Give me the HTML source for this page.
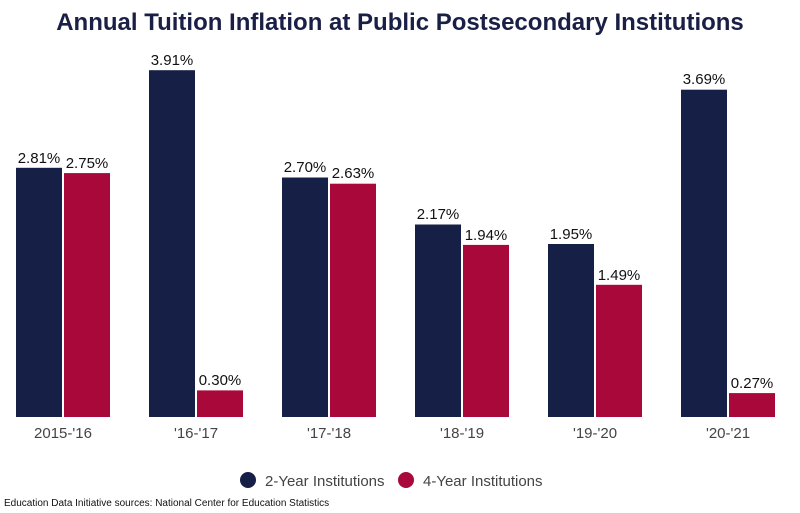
<!DOCTYPE html>
<html><head><meta charset="utf-8"><style>
body{margin:0;background:#fff;}
svg{display:block;font-family:"Liberation Sans",Arial,sans-serif;}
</style></head><body>
<svg width="800" height="513" viewBox="0 0 800 513" xmlns="http://www.w3.org/2000/svg">
<rect width="800" height="513" fill="#fff"/>
<text x="400" y="30" text-anchor="middle" font-size="24" font-weight="bold" fill="#1a1f45">Annual Tuition Inflation at Public Postsecondary Institutions</text>
<g font-size="15" fill="#111" text-anchor="middle">
<rect x="16" y="167.8" width="46" height="249.2" fill="#161f45"/>
<rect x="64" y="173.1" width="46" height="243.9" fill="#a8083a"/>
<text x="39" y="163">2.81%</text><text x="87" y="168">2.75%</text>
<rect x="149" y="70.2" width="46" height="346.8" fill="#161f45"/>
<rect x="197" y="390.4" width="46" height="26.6" fill="#a8083a"/>
<text x="172" y="65">3.91%</text><text x="220" y="385">0.30%</text>
<rect x="282" y="177.5" width="46" height="239.5" fill="#161f45"/>
<rect x="330" y="183.7" width="46" height="233.3" fill="#a8083a"/>
<text x="305" y="172">2.70%</text><text x="353" y="178">2.63%</text>
<rect x="415" y="224.5" width="46" height="192.5" fill="#161f45"/>
<rect x="463" y="244.9" width="46" height="172.1" fill="#a8083a"/>
<text x="438" y="219">2.17%</text><text x="486" y="240">1.94%</text>
<rect x="548" y="244.0" width="46" height="173.0" fill="#161f45"/>
<rect x="596" y="284.8" width="46" height="132.2" fill="#a8083a"/>
<text x="571" y="239">1.95%</text><text x="619" y="280">1.49%</text>
<rect x="681" y="89.7" width="46" height="327.3" fill="#161f45"/>
<rect x="729" y="393.1" width="46" height="23.9" fill="#a8083a"/>
<text x="704" y="84">3.69%</text><text x="752" y="388">0.27%</text>
</g>
<g font-size="15" fill="#444" text-anchor="middle">
<text x="63" y="438">2015-'16</text>
<text x="196" y="438">'16-'17</text>
<text x="329" y="438">'17-'18</text>
<text x="462" y="438">'18-'19</text>
<text x="595" y="438">'19-'20</text>
<text x="728" y="438">'20-'21</text>
</g>
<circle cx="248" cy="480" r="8" fill="#161f45"/>
<text x="265" y="486" font-size="15" fill="#444">2-Year Institutions</text>
<circle cx="406" cy="480" r="8" fill="#a8083a"/>
<text x="423" y="486" font-size="15" fill="#444">4-Year Institutions</text>
<text x="4" y="506" font-size="10" fill="#111">Education Data Initiative sources: National Center for Education Statistics</text>
</svg>
</body></html>
